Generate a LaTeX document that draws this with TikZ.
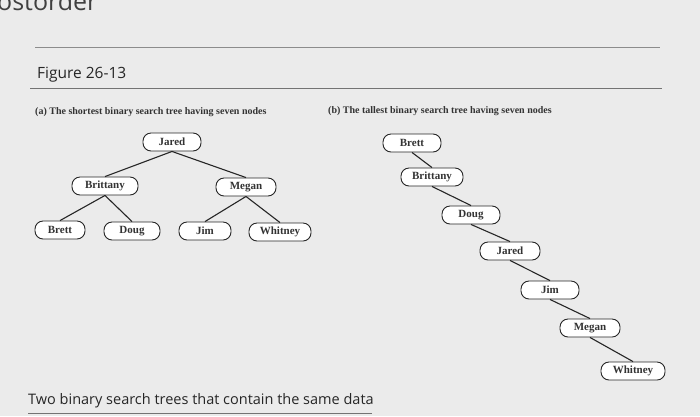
\documentclass[tikz,border=0pt]{standalone}
\usepackage{fontspec}
\setmainfont{Liberation Serif}
\newfontfamily\capfont{Open Sans}
\begin{document}
\begin{tikzpicture}[x=1pt,y=-1pt,
  tn/.style={draw=black!85,line width=0.9pt,rounded corners=8pt,fill=white,minimum height=18pt,inner ysep=1pt,inner xsep=5pt,font=\fontsize{11}{12}\selectfont\bfseries,text=black!80},
  ed/.style={line width=1.1pt,black!85}]
\fill[black!8] (0,0) rectangle (700,416);
\useasboundingbox (0,0) rectangle (700,416);
\node[anchor=north west,inner sep=0pt,font=\capfont\fontsize{25}{25}\selectfont,text=black!75] (top) at (-3,-9) {ostorder};
\draw[black!45,line width=0.8pt] (35,47) -- (660,47);
\node[anchor=west,inner sep=0pt,font=\capfont\fontsize{15.5}{16}\selectfont,text=black!85] (fig) at (37,75) {Figure 26-13};
\draw[black!55,line width=0.8pt] (30,88) -- (662,88);
\node[anchor=west,inner sep=0pt,font=\fontsize{10}{11}\selectfont\bfseries,text=black!80] (la) at (35,112) {(a) The shortest binary search tree having seven nodes};
\node[anchor=west,inner sep=0pt,font=\fontsize{10}{11}\selectfont\bfseries,text=black!80] (lb) at (328,111) {(b) The tallest binary search tree having seven nodes};
% tree a
\node[tn,minimum width=58pt] (aJared) at (172,142) {Jared};
\node[tn,minimum width=66pt] (aBrittany) at (105,186) {Brittany};
\node[tn,minimum width=60pt] (aMegan) at (246,187) {Megan};
\node[tn,minimum width=50pt] (aBrett) at (60,230) {Brett};
\node[tn,minimum width=56pt] (aDoug) at (132,231) {Doug};
\node[tn,minimum width=52pt] (aJim) at (205,231) {Jim};
\node[tn,minimum width=62pt] (aWhitney) at (280,232) {Whitney};
\draw[ed] (aJared.south) -- (aBrittany.north);
\draw[ed] (aJared.south) -- (aMegan.north);
\draw[ed] (aBrittany.south) -- (aBrett.north);
\draw[ed] (aBrittany.south) -- (aDoug.north);
\draw[ed] (aMegan.south) -- (aJim.north);
\draw[ed] (aMegan.south) -- (aWhitney.north);
% tree b
\node[tn,minimum width=58pt] (bBrett) at (412,143) {Brett};
\node[tn,minimum width=62pt] (bBrittany) at (432,177) {Brittany};
\node[tn,minimum width=58pt] (bDoug) at (471,215) {Doug};
\node[tn,minimum width=60pt] (bJared) at (510,251) {Jared};
\node[tn,minimum width=58pt] (bJim) at (550,290) {Jim};
\node[tn,minimum width=60pt] (bMegan) at (590,328) {Megan};
\node[tn,minimum width=64pt] (bWhitney) at (633,371) {Whitney};
\draw[ed] (bBrett.south) -- (bBrittany.north);
\draw[ed] (bBrittany.south) -- (bDoug.north);
\draw[ed] (bDoug.south) -- (bJared.north);
\draw[ed] (bJared.south) -- (bJim.north);
\draw[ed] (bJim.south) -- (bMegan.north);
\draw[ed] (bMegan.south) -- (bWhitney.north);
\node[anchor=west,inner sep=0pt,font=\capfont\fontsize{14.5}{15}\selectfont,text=black!85] (cap) at (28,401) {Two binary search trees that contain the same data};
\draw[black!55,line width=0.8pt] (28,413) -- (372,413);
\end{tikzpicture}
\end{document}
